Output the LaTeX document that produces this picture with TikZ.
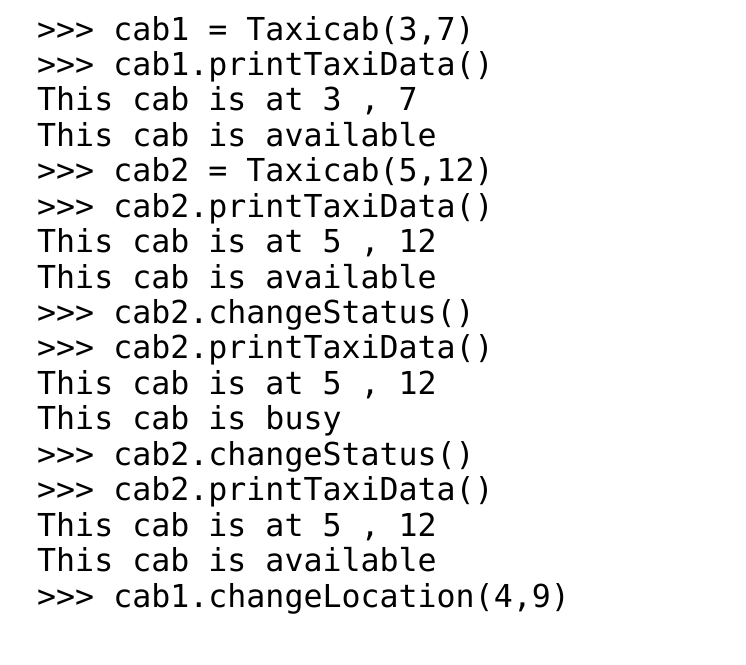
\documentclass[tikz,border=0pt]{standalone}
\usepackage{fontspec}
\setmonofont{DejaVu Sans Mono}
\begin{document}
\begin{tikzpicture}[x=1pt,y=-1pt,txt/.style={anchor=base west,inner sep=0pt,font=\ttfamily\fontsize{31.6}{32}\selectfont}]
\useasboundingbox (0,0) rectangle (746,664);
\foreach \t [count=\i from 0] in {
{>>> cab1 = Taxicab(3,7)},
{>>> cab1.printTaxiData()},
{This cab is at 3 , 7},
{This cab is available},
{>>> cab2 = Taxicab(5,12)},
{>>> cab2.printTaxiData()},
{This cab is at 5 , 12},
{This cab is available},
{>>> cab2.changeStatus()},
{>>> cab2.printTaxiData()},
{This cab is at 5 , 12},
{This cab is busy},
{>>> cab2.changeStatus()},
{>>> cab2.printTaxiData()},
{This cab is at 5 , 12},
{This cab is available},
{>>> cab1.changeLocation(4,9)}}
  \node[txt] (l\i) at (37,{40+35.44*\i}) {\t};
\end{tikzpicture}
\end{document}
